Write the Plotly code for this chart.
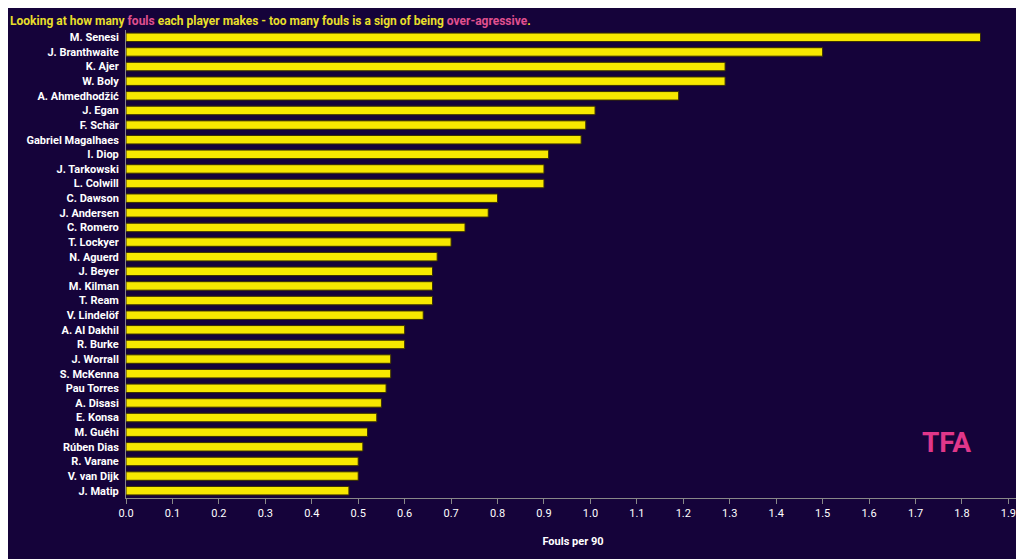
import plotly.graph_objects as go

players = ["M. Senesi","J. Branthwaite","K. Ajer","W. Boly","A. Ahmedhodžić","J. Egan","F. Schär",
           "Gabriel Magalhaes","I. Diop","J. Tarkowski","L. Colwill","C. Dawson","J. Andersen","C. Romero",
           "T. Lockyer","N. Aguerd","J. Beyer","M. Kilman","T. Ream","V. Lindelöf","A. Al Dakhil","R. Burke",
           "J. Worrall","S. McKenna","Pau Torres","A. Disasi","E. Konsa","M. Guéhi","Rúben Dias","R. Varane",
           "V. van Dijk","J. Matip"]
fouls = [1.84,1.50,1.29,1.29,1.19,1.01,0.99,0.98,0.91,0.90,0.90,0.80,0.78,0.73,0.70,0.67,0.66,0.66,0.66,
         0.64,0.60,0.60,0.57,0.57,0.56,0.55,0.54,0.52,0.51,0.50,0.50,0.48]
ticks = [round(i*0.1,1) for i in range(20)]

BG = "#15033a"
FONT = "Roboto, sans-serif"
fig = go.Figure(go.Bar(x=fouls, y=players, orientation="h",
                       marker=dict(color="#f7e800", line=dict(color="#3a3000", width=1))))
fig.update_layout(
    width=1024, height=559, paper_bgcolor=BG, plot_bgcolor=BG,
    margin=dict(l=118, r=12, t=22, b=69), bargap=0.42, showlegend=False,
    font=dict(family=FONT, color="white", size=11),
    title=dict(text="<b><span style='color:#e8df2a'>Looking at how many </span><span style='color:#e0508f'>fouls</span>"
                    "<span style='color:#e8df2a'> each player makes - too many fouls is a sign of being </span>"
                    "<span style='color:#e0508f'>over-agressive</span><span style='color:#e8df2a'>.</span></b>",
               x=0.002, xanchor="left", y=0.985, yanchor="top", font=dict(size=12, family=FONT)),
    xaxis=dict(range=[0, 1.925], tickvals=ticks, ticktext=[f"{t:.1f}" for t in ticks], showgrid=False,
               zeroline=False, showline=True, linecolor="#888", ticks="outside", tickcolor="#888", ticklen=5,
               tickfont=dict(size=11, color="white", family=FONT),
               title=dict(text="<b>Fouls per 90</b>", font=dict(size=11, color="white", family=FONT), standoff=18)),
    yaxis=dict(autorange="reversed", showgrid=False, showline=True, linecolor="#888", ticks="",
               tickfont=dict(size=11, color="white", family=FONT), ticklabelstandoff=4),
)
fig.update_yaxes(tickprefix="<b>", ticksuffix="</b>")
fig.update_xaxes(tickprefix="<b>", ticksuffix="</b>")
fig.add_annotation(text="<b>TFA</b>", x=0.947, y=0.08, xref="paper", yref="paper", showarrow=False,
                   font=dict(size=28, color="#e0378a", family=FONT))
fig.write_html("out.html")
